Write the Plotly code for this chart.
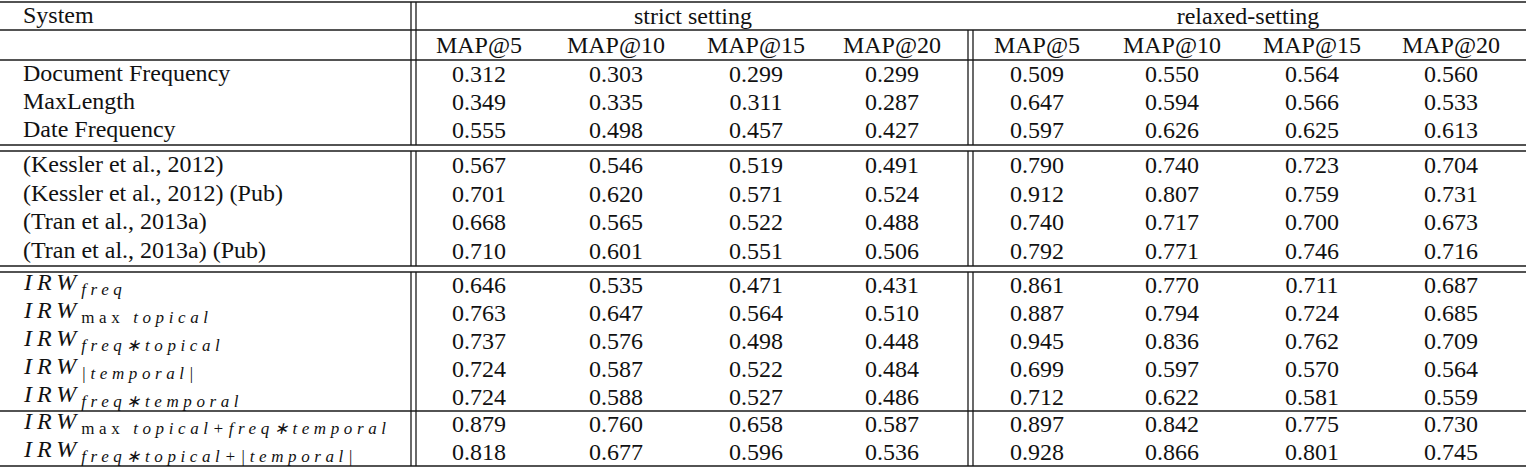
import plotly.graph_objects as go

# ---------------- data ----------------
def irw(sub):
    return ('<span style="font-size:24px;letter-spacing:5px"><i>IRW</i></span>'
            '<sub><span style="font-size:17px;letter-spacing:4.6px">' + sub + '</span></sub>')

systems = [
    "Document Frequency", "MaxLength", "Date Frequency",
    "(Kessler et al., 2012)", "(Kessler et al., 2012) (Pub)",
    "(Tran et al., 2013a)", "(Tran et al., 2013a) (Pub)",
    irw("<i>freq</i>"),
    irw("max <i>topical</i>"),
    irw("<i>freq∗topical</i>"),
    irw("<i>|temporal|</i>"),
    irw("<i>freq∗temporal</i>"),
    irw("max <i>topical+freq∗temporal</i>"),
    irw("<i>freq∗topical+|temporal|</i>"),
]
group_sizes = [3, 4, 5, 2]
metrics = ["MAP@5", "MAP@10", "MAP@15", "MAP@20"]
settings = ["strict setting", "relaxed-setting"]
first_header = "System"

strict_map5 = [0.312, 0.349, 0.555, 0.567, 0.701, 0.668, 0.710, 0.646, 0.763, 0.737, 0.724, 0.724, 0.879, 0.818]
strict_map10 = [0.303, 0.335, 0.498, 0.546, 0.620, 0.565, 0.601, 0.535, 0.647, 0.576, 0.587, 0.588, 0.760, 0.677]
strict_map15 = [0.299, 0.311, 0.457, 0.519, 0.571, 0.522, 0.551, 0.471, 0.564, 0.498, 0.522, 0.527, 0.658, 0.596]
strict_map20 = [0.299, 0.287, 0.427, 0.491, 0.524, 0.488, 0.506, 0.431, 0.510, 0.448, 0.484, 0.486, 0.587, 0.536]
relaxed_map5 = [0.509, 0.647, 0.597, 0.790, 0.912, 0.740, 0.792, 0.861, 0.887, 0.945, 0.699, 0.712, 0.897, 0.928]
relaxed_map10 = [0.550, 0.594, 0.626, 0.740, 0.807, 0.717, 0.771, 0.770, 0.794, 0.836, 0.597, 0.622, 0.842, 0.866]
relaxed_map15 = [0.564, 0.566, 0.625, 0.723, 0.759, 0.700, 0.746, 0.711, 0.724, 0.762, 0.570, 0.581, 0.775, 0.801]
relaxed_map20 = [0.560, 0.533, 0.613, 0.704, 0.731, 0.673, 0.716, 0.687, 0.685, 0.709, 0.564, 0.559, 0.730, 0.745]

columns = [strict_map5, strict_map10, strict_map15, strict_map20,
           relaxed_map5, relaxed_map10, relaxed_map15, relaxed_map20]

# ---------------- layout geometry ----------------
W, H = 1526, 472
FONT = "Liberation Serif, Times New Roman, serif"
FS = 24
INK = "#111111"
LINE = "#1a1a1a"
LW = 1.3

label_x = 21
col_x = [479, 616, 756, 892, 1037, 1172, 1312, 1451]
setting_x = [693, 1248]
top_y, head1_y, head2_y = 2, 30, 60
group_bounds = [(60, 145), (151, 266), (272, 411), (411, 466)]
value_shift = 1.5
label_shift = -1.5

row_y = []
for (t, b), n in zip(group_bounds, group_sizes):
    p = (b - t) / n
    row_y += [t + p * (i + 0.5) for i in range(n)]

fig = go.Figure()
tf = dict(family=FONT, size=FS, color=INK)

# header row 1 (settings) and row 2 (metrics)
fig.add_trace(go.Scatter(x=setting_x, y=[(top_y + head1_y) / 2 + value_shift] * 2, text=settings,
                         mode="text", textposition="middle center", textfont=tf))
fig.add_trace(go.Scatter(x=col_x, y=[(head1_y + head2_y) / 2 + value_shift] * 8, text=metrics * 2,
                         mode="text", textposition="middle center", textfont=tf))
# values
for cx, vals in zip(col_x, columns):
    fig.add_trace(go.Scatter(x=[cx] * len(vals), y=[y + value_shift for y in row_y],
                             text=[f"{v:.3f}" for v in vals],
                             mode="text", textposition="middle center", textfont=tf))
fig.update_traces(hoverinfo="skip", showlegend=False, cliponaxis=False)

# left column labels
fig.add_annotation(x=label_x, y=(top_y + head1_y) / 2 + label_shift, text=first_header, showarrow=False,
                   xref="x", yref="y", xanchor="left", yanchor="middle", font=tf)
for lab, y in zip(systems, row_y):
    fig.add_annotation(x=label_x, y=y + label_shift, text=lab, showarrow=False,
                       xref="x", yref="y", xanchor="left", yanchor="middle", font=tf)

# rules
def hline(y):
    fig.add_shape(type="line", x0=0, x1=W, y0=y, y1=y, xref="x", yref="y",
                  line=dict(color=LINE, width=LW))

def vline(x, y0, y1):
    fig.add_shape(type="line", x0=x, x1=x, y0=y0, y1=y1, xref="x", yref="y",
                  line=dict(color=LINE, width=LW))

for y in [top_y, head1_y, head2_y, 145, 151, 266, 272, 411, 466]:
    hline(y)

segments_left = [(top_y, 145), (151, 266), (272, 466)]
segments_mid = [(head1_y, 145), (151, 266), (272, 466)]
for x in (411, 416):
    for a, b in segments_left:
        vline(x, a, b)
for x in (968, 973):
    for a, b in segments_mid:
        vline(x, a, b)

fig.update_layout(
    width=W, height=H,
    margin=dict(l=0, r=0, t=0, b=0),
    paper_bgcolor="white", plot_bgcolor="white",
    xaxis=dict(range=[0, W], visible=False, fixedrange=True),
    yaxis=dict(range=[H, 0], visible=False, fixedrange=True),
    showlegend=False,
)

fig.write_html("out.html",
               config={"displayModeBar": False, "staticPlot": True},
               post_script="document.body.style.margin='0px';document.body.style.overflow='hidden';")
